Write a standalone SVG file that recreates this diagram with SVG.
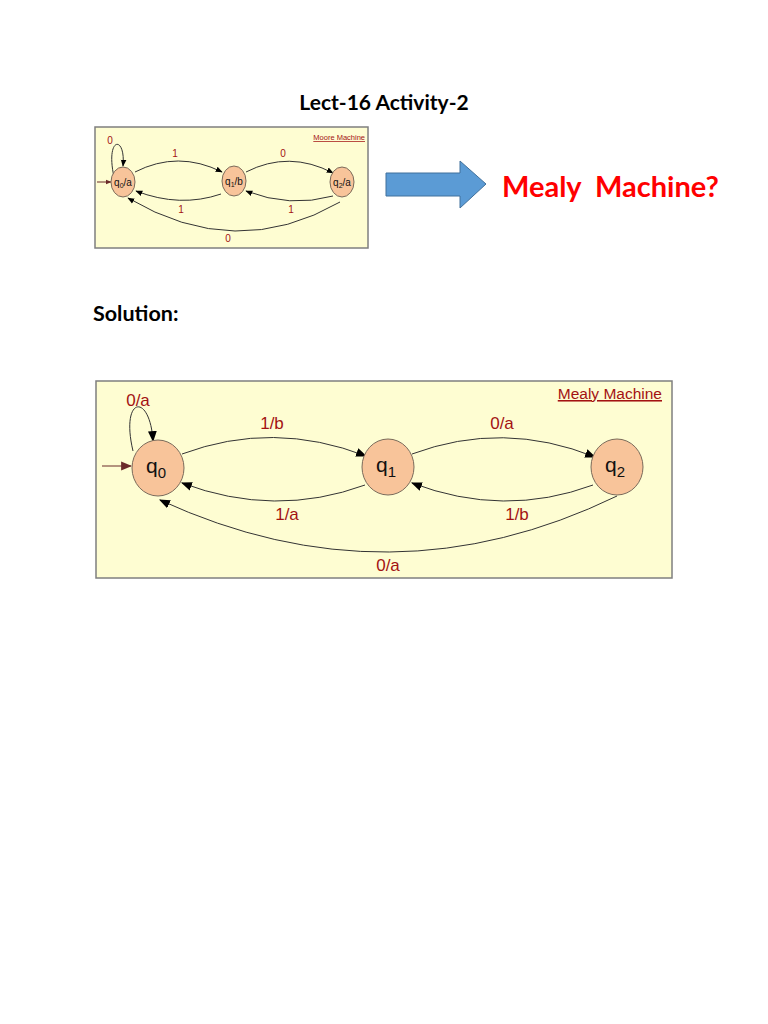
<svg xmlns="http://www.w3.org/2000/svg" width="768" height="1024" viewBox="0 0 768 1024">
<defs>
<marker id="ah" viewBox="0 0 10 10" refX="9" refY="5" markerWidth="7" markerHeight="7" markerUnits="userSpaceOnUse" orient="auto"><path d="M0,1 L10,5 L0,9 z" fill="#000"/></marker>
<marker id="ahL" viewBox="0 0 10 10" refX="9" refY="5" markerWidth="11" markerHeight="11" markerUnits="userSpaceOnUse" orient="auto"><path d="M0,1 L10,5 L0,9 z" fill="#000"/></marker>
<marker id="ahS" viewBox="0 0 10 10" refX="9" refY="5" markerWidth="11" markerHeight="11" markerUnits="userSpaceOnUse" orient="auto"><path d="M0,1 L10,5 L0,9 z" fill="#6b2a2a"/></marker>
<marker id="ahSs" viewBox="0 0 10 10" refX="9" refY="5" markerWidth="6" markerHeight="6" markerUnits="userSpaceOnUse" orient="auto"><path d="M0,1 L10,5 L0,9 z" fill="#6b2a2a"/></marker>
</defs>
<style>
.panel{fill:#fefdd2;stroke:#7f7f7f;stroke-width:1.5}
.node{fill:#f8c49a;stroke:#7a6a5a;stroke-width:1}
.e{fill:none;stroke:#333;stroke-width:1}
.lbl{font-family:"Liberation Sans",Arial,sans-serif;fill:#a31212;text-anchor:middle}
.q{font-family:"Liberation Sans",Arial,sans-serif;fill:#111;text-anchor:middle}
.hd{font-family:Lato,"Liberation Sans",sans-serif;font-weight:bold;fill:#000}
</style>
<rect width="768" height="1024" fill="#fff"/>
<text class="hd" x="384" y="110" font-size="21" text-anchor="middle">Lect-16 Activity-2</text>
<text class="hd" x="93" y="321" font-size="21.5">Solution:</text>

<!-- Top Moore machine -->
<g id="moore">
<rect class="panel" x="95" y="127" width="273" height="121"/>
<text class="lbl" x="365" y="140" font-size="7.5" text-decoration="underline" style="text-anchor:end">Moore Machine</text>
</g>
<g id="moore-edges">
<path class="e" d="M114,177 C105,136 126,135 123,166" marker-end="url(#ah)" stroke-width="0.8"/>
<path class="e" d="M135,172 Q178,150 222,172" marker-end="url(#ah)" stroke-width="0.8"/>
<path class="e" d="M246,172 Q289,150 333,173" marker-end="url(#ah)" stroke-width="0.8"/>
<path class="e" d="M221,194 Q180,208 136,191" marker-end="url(#ah)" stroke-width="0.8"/>
<path class="e" d="M333,196 Q290,208 246,191" marker-end="url(#ah)" stroke-width="0.8"/>
<path class="e" d="M340,202 Q236,262 128,198" marker-end="url(#ah)" stroke-width="0.8"/>
<path d="M97,182 L111,182" stroke="#6b2a2a" stroke-width="1" marker-end="url(#ahSs)"/>
<text class="lbl" x="110" y="144" font-size="10">0</text>
<text class="lbl" x="175" y="157" font-size="10">1</text>
<text class="lbl" x="283" y="157" font-size="10">0</text>
<text class="lbl" x="181" y="213" font-size="10">1</text>
<text class="lbl" x="291" y="213" font-size="10">1</text>
<text class="lbl" x="228" y="242" font-size="10">0</text>
</g>
<g id="m-q0"><ellipse class="node" cx="123" cy="182" rx="12" ry="15"/><text class="q" x="123" y="186" font-size="10">q<tspan font-size="7" dy="2">0</tspan><tspan dy="-2">/a</tspan></text></g>
<g id="m-q1"><ellipse class="node" cx="234" cy="181" rx="12" ry="15"/><text class="q" x="234" y="185" font-size="10">q<tspan font-size="7" dy="2">1</tspan><tspan dy="-2">/b</tspan></text></g>
<g id="m-q2"><ellipse class="node" cx="342" cy="182" rx="12" ry="15"/><text class="q" x="342" y="186" font-size="10">q<tspan font-size="7" dy="2">2</tspan><tspan dy="-2">/a</tspan></text></g>

<!-- Block arrow -->
<g id="block-arrow">
<path d="M386,173 L460,173 L460,161 L486,184 L460,208 L460,196 L386,196 z" fill="#5b9bd5" stroke="#41719c" stroke-width="1"/>
</g>
<text x="502" y="197" font-family="Lato,'Liberation Sans',sans-serif" font-weight="bold" font-size="29" fill="#ff0000" xml:space="preserve">Mealy  Machine?</text>

<!-- Bottom Mealy machine -->
<g id="mealy">
<rect class="panel" x="96" y="381" width="576" height="197"/>
<text class="lbl" x="662" y="399" font-size="15.5" text-decoration="underline" style="text-anchor:end">Mealy Machine</text>
</g>
<g id="connectors">
<path class="e" d="M133,451 C120,396 150,392 153,441" marker-end="url(#ahL)"/>
<path class="e" d="M182,454 Q273,420 366,456" marker-end="url(#ahL)"/>
<path class="e" d="M412,454 Q503,420 595,457" marker-end="url(#ahL)"/>
<path class="e" d="M365,485 Q275,518 182,483" marker-end="url(#ahL)"/>
<path class="e" d="M593,485 Q504,518 412,483" marker-end="url(#ahL)"/>
<path class="e" d="M617,496 Q390,606 160,500" marker-end="url(#ahL)"/>
<path d="M102,466 L131,466" stroke="#6b2a2a" stroke-width="1" marker-end="url(#ahS)"/>
<text class="lbl" x="138" y="406" font-size="17">0/a</text>
<text class="lbl" x="272" y="429" font-size="17">1/b</text>
<text class="lbl" x="502" y="429" font-size="17">0/a</text>
<text class="lbl" x="287" y="520" font-size="17">1/a</text>
<text class="lbl" x="517" y="520" font-size="17">1/b</text>
<text class="lbl" x="388" y="571" font-size="17">0/a</text>
</g>
<g id="q0"><ellipse class="node" cx="158" cy="468" rx="26" ry="28"/><text class="q" x="156" y="473" font-size="21">q<tspan font-size="15" dy="5">0</tspan></text></g>
<g id="q1"><ellipse class="node" cx="388" cy="467" rx="26" ry="28"/><text class="q" x="386" y="472" font-size="21">q<tspan font-size="15" dy="5">1</tspan></text></g>
<g id="q2"><ellipse class="node" cx="617" cy="467" rx="26" ry="28"/><text class="q" x="615" y="472" font-size="21">q<tspan font-size="15" dy="5">2</tspan></text></g>
</svg>
